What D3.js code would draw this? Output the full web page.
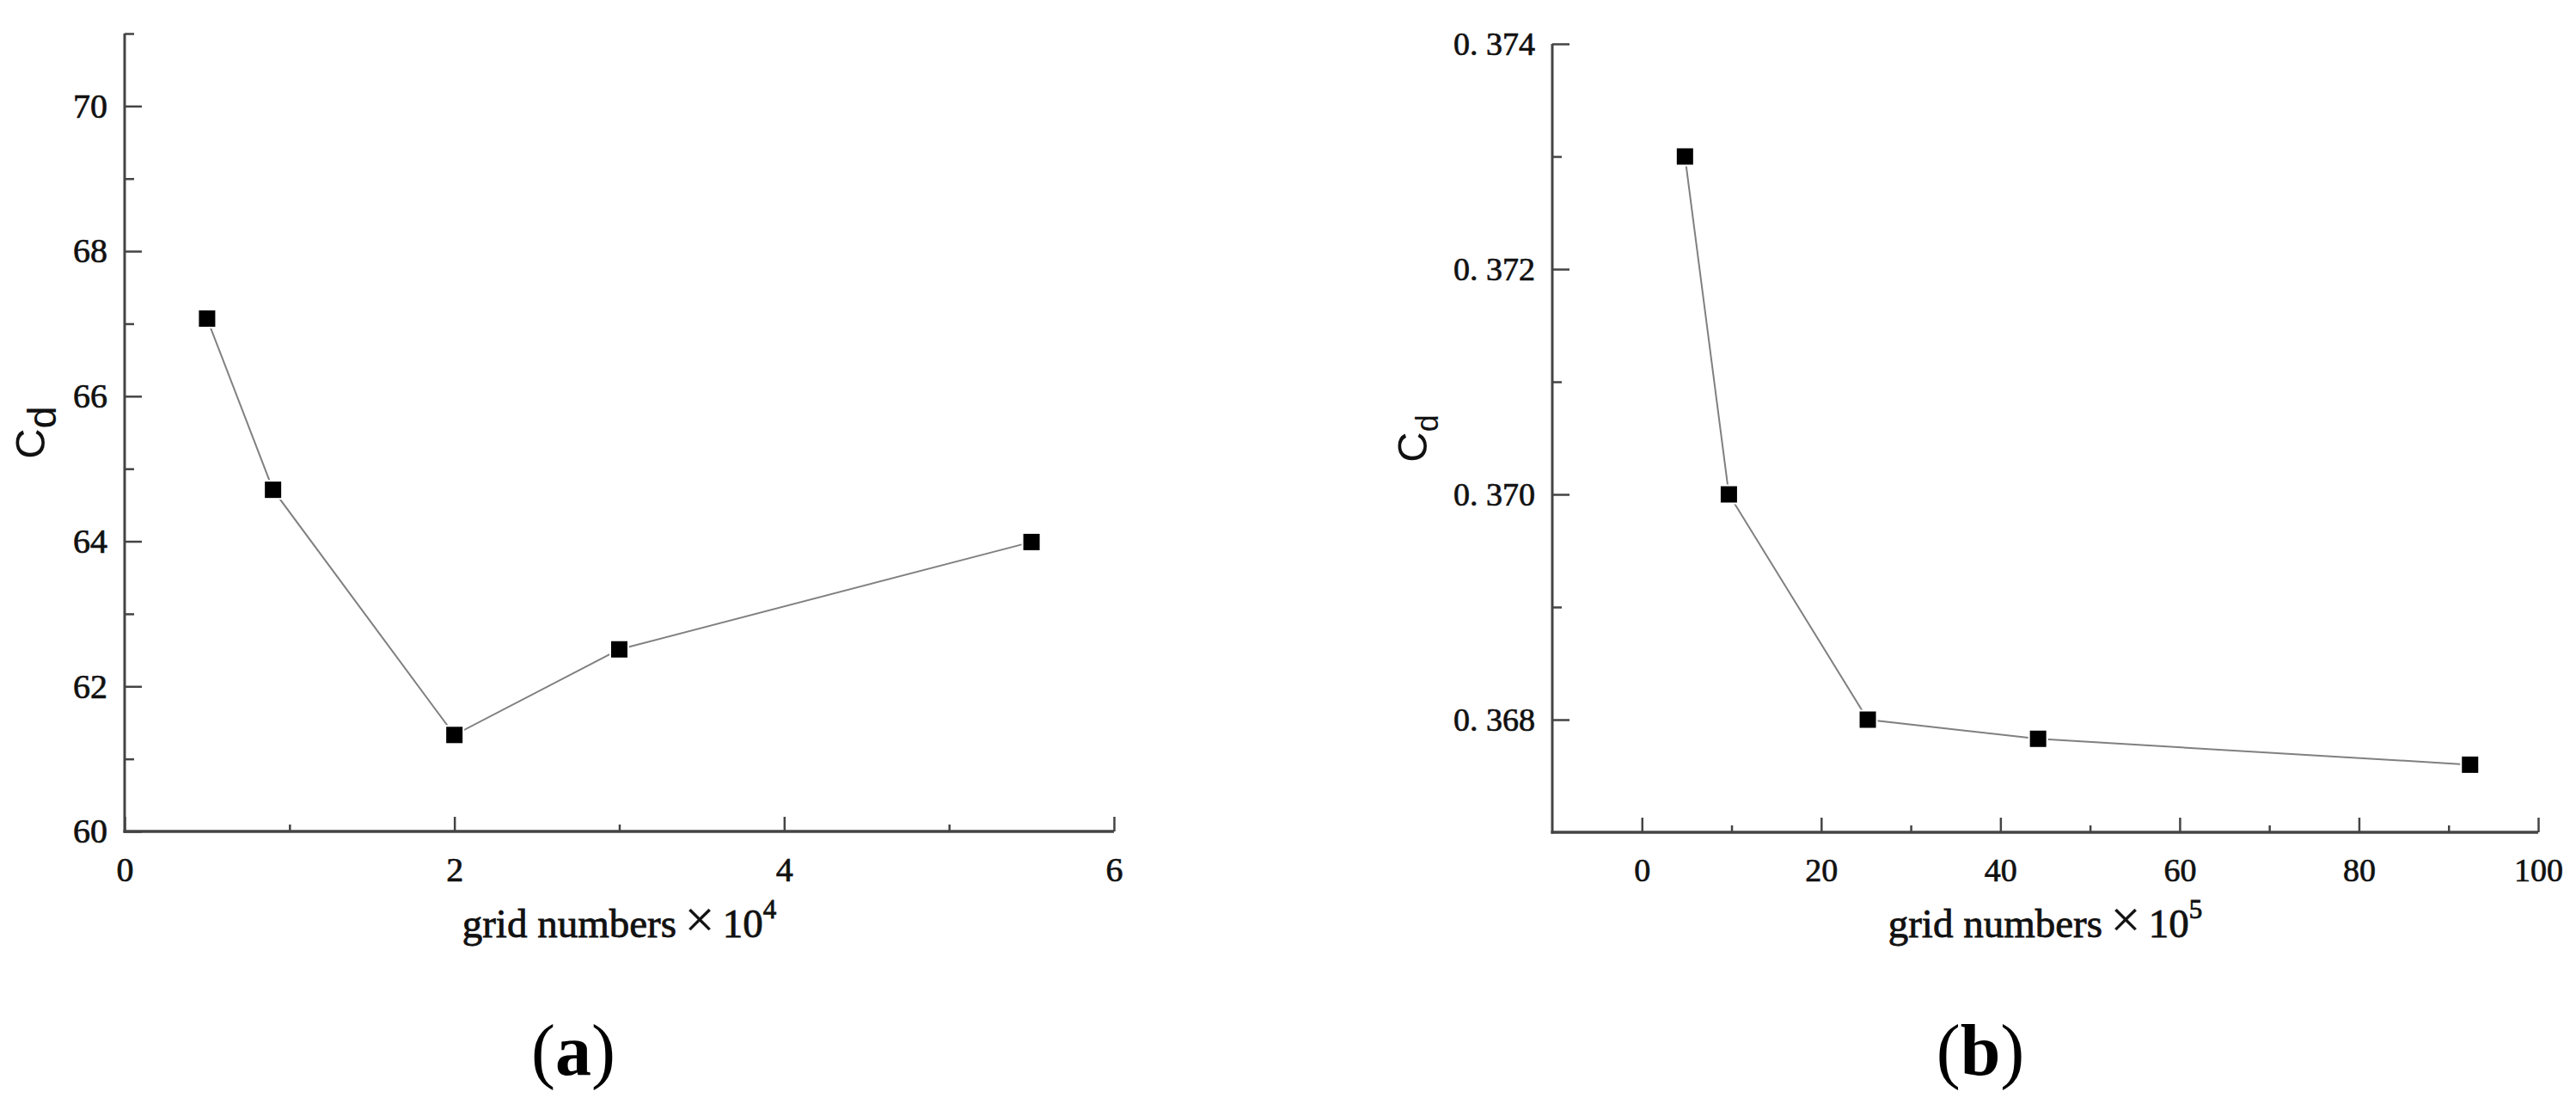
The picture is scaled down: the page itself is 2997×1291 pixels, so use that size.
<!DOCTYPE html>
<html>
<head>
<meta charset="utf-8">
<script src="https://cdn.jsdelivr.net/npm/d3@7"></script>
<style>
  html, body { margin: 0; padding: 0; background: #fff; }
  svg { display: block; }
</style>
</head>
<body>
<svg id="chart" width="2997" height="1291"></svg>
<script>
// ---- data ----
const gridA = [0.5, 0.9, 2.0, 3.0, 5.5];          // grid numbers ×10^4
const cdA   = [67.07, 64.71, 61.33, 62.51, 63.99];
const gridB = [4.8, 9.7, 25.2, 44.2, 92.4];        // grid numbers ×10^5
const cdB   = [0.3730, 0.3700, 0.3680, 0.36783, 0.36760];

const xTicksA = [0, 2, 4, 6];
const xMinorA = [1, 3, 5];
const yTicksA = [60, 62, 64, 66, 68, 70];
const yMinorA = [61, 63, 65, 67, 69, 71];

const xTicksB = [0, 20, 40, 60, 80, 100];
const xMinorB = [10, 30, 50, 70, 90];
const yTicksB = [0.368, 0.370, 0.372, 0.374];
const yMinorB = [0.369, 0.371, 0.373];

const xLabelPowA = "4";
const xLabelPowB = "5";
const panelLabels = ["a", "b"];

// ---- drawing ----
const svg = d3.select("#chart");
const AXIS_COLOR = "#444";
const serif = "'Liberation Serif', 'Times New Roman', serif";
const sans = "'Liberation Sans', Arial, sans-serif";

function panel(cfg) {
  const g = svg.append("g");
  const x = d3.scaleLinear().domain(cfg.xDomain).range([cfg.left, cfg.right]);
  const y = d3.scaleLinear().domain(cfg.yDomain).range([cfg.bottom, cfg.top]);

  // minor ticks
  g.append("g").attr("transform", `translate(0,${cfg.bottom})`)
    .call(d3.axisBottom(x).tickValues(cfg.xMinor).tickSizeInner(-8).tickSizeOuter(0).tickFormat(""))
    .call(s => s.select(".domain").remove());
  g.append("g").attr("transform", `translate(${cfg.left},0)`)
    .call(d3.axisLeft(y).tickValues(cfg.yMinor).tickSizeInner(-11).tickSizeOuter(0).tickFormat(""))
    .call(s => s.select(".domain").remove());

  // major ticks + labels
  const xa = g.append("g").attr("transform", `translate(0,${cfg.bottom})`)
    .call(d3.axisBottom(x).tickValues(cfg.xTicks).tickSizeInner(-17).tickSizeOuter(0).tickPadding(30).tickFormat(cfg.xFmt));
  const ya = g.append("g").attr("transform", `translate(${cfg.left},0)`)
    .call(d3.axisLeft(y).tickValues(cfg.yTicks).tickSizeInner(-20).tickSizeOuter(0).tickPadding(20).tickFormat(cfg.yFmt));

  [xa, ya].forEach(a => {
    a.select(".domain").remove();
    a.selectAll("text").attr("font-family", serif).attr("font-size", cfg.tickFont)
      .attr("fill", "#111").attr("stroke", "#111").attr("stroke-width", 0.7);
  });
  xa.selectAll("text").attr("dy", "0.71em");
  g.selectAll(".tick line").attr("stroke", AXIS_COLOR).attr("stroke-width", 2.5);

  // axis lines
  g.append("line").attr("x1", cfg.left).attr("x2", cfg.left).attr("y1", cfg.top).attr("y2", cfg.bottom + 1.5)
    .attr("stroke", AXIS_COLOR).attr("stroke-width", 3);
  g.append("line").attr("x1", cfg.left - 1.5).attr("x2", cfg.right).attr("y1", cfg.bottom).attr("y2", cfg.bottom)
    .attr("stroke", AXIS_COLOR).attr("stroke-width", 3.5);

  // series line
  const pts = cfg.xs.map((v, i) => [v, cfg.ys[i]]);
  g.append("path").datum(pts)
    .attr("d", d3.line().x(d => x(d[0])).y(d => y(d[1])))
    .attr("fill", "none").attr("stroke", "#808080").attr("stroke-width", 2);

  // markers
  const S = 19;
  g.selectAll("rect.m").data(pts).join("rect").attr("class", "m")
    .attr("x", d => x(d[0]) - S / 2).attr("y", d => y(d[1]) - S / 2)
    .attr("width", S).attr("height", S)
    .attr("fill", "#000").attr("stroke", "#fff").attr("stroke-width", 4).attr("paint-order", "stroke");

  // y label Cd
  const yl = g.append("text")
    .attr("transform", `translate(${cfg.cdX},${cfg.cdY}) rotate(-90)`)
    .attr("text-anchor", "middle").attr("font-family", sans).attr("fill", "#111");
  yl.append("tspan").attr("font-size", 49).text("C");
  yl.append("tspan").attr("font-size", cfg.dSize).attr("dy", 13).text("d");

  // x label
  const xl = g.append("text")
    .attr("x", (cfg.left + cfg.right) / 2).attr("y", 1090)
    .attr("text-anchor", "middle").attr("font-family", serif).attr("font-size", 47)
    .attr("fill", "#111").attr("stroke", "#111").attr("stroke-width", 0.8);
  xl.append("tspan").text("grid numbers\u2009");
  xl.append("tspan").attr("font-size", 62).attr("stroke-width", 0.3).text("\u00D7");
  xl.append("tspan").text("\u200910");
  xl.append("tspan").attr("font-size", 31).attr("dy", -22).text(cfg.pow);

  // panel label
  const pl = g.append("text")
    .attr("x", cfg.panelX).attr("y", 1250)
    .attr("text-anchor", "middle").attr("font-family", serif).attr("font-size", 84).attr("fill", "#000");
  pl.append("tspan").text("(");
  pl.append("tspan").attr("font-weight", "bold").text(cfg.panel);
  pl.append("tspan").text(")");
}

panel({
  xDomain: [0, 6], yDomain: [60, 71],
  left: 145, right: 1296, top: 39, bottom: 967,
  xTicks: xTicksA, xMinor: xMinorA, yTicks: yTicksA, yMinor: yMinorA,
  xFmt: d3.format("d"), yFmt: d3.format("d"),
  tickFont: 40,
  xs: gridA, ys: cdA,
  cdX: 52, cdY: 503, dSize: 47,
  pow: xLabelPowA, panel: panelLabels[0], panelX: 667
});

panel({
  xDomain: [-10, 100], yDomain: [0.367, 0.374],
  left: 1806, right: 2953, top: 51, bottom: 968,
  xTicks: xTicksB, xMinor: xMinorB, yTicks: yTicksB, yMinor: yMinorB,
  xFmt: d3.format("d"), yFmt: v => d3.format(".3f")(v).replace(".", ". "),
  tickFont: 38,
  xs: gridB, ys: cdB,
  cdX: 1660, cdY: 510, dSize: 36,
  pow: xLabelPowB, panel: panelLabels[1], panelX: 2304
});
</script>
</body>
</html>
